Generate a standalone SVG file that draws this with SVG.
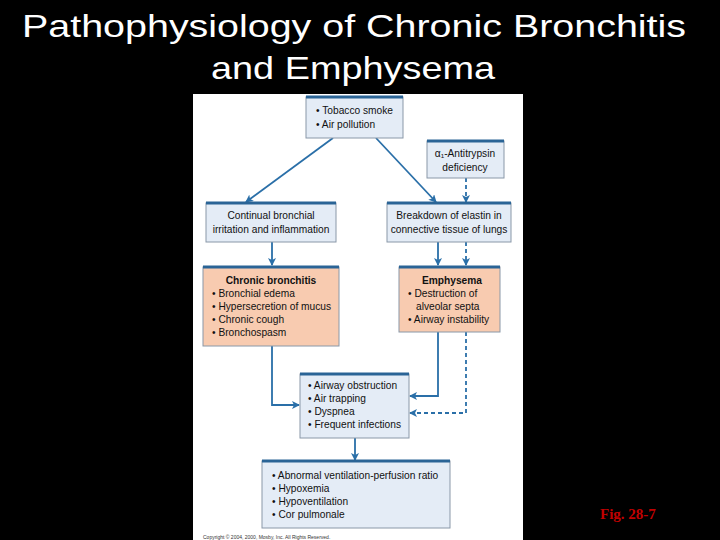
<svg xmlns="http://www.w3.org/2000/svg" width="720" height="540" viewBox="0 0 720 540">
<style>
.b{fill:#e4ecf6;stroke:#8a98a8;stroke-width:1}
.p{fill:#f8cbb0;stroke:#8a98a8;stroke-width:1}
.tb{stroke:#2a6496;stroke-width:3}
.t{font-family:"Liberation Sans",Arial,sans-serif;font-size:10.2px;fill:#111}
.c{stroke:#2a6fa8;stroke-width:1.8;fill:none}
.d{stroke-dasharray:4,3}
.h{font-family:"Liberation Sans",Arial,sans-serif;font-size:32px;fill:#fff}
</style>
<defs><marker id="a" markerWidth="8" markerHeight="8" refX="7" refY="4" orient="auto" markerUnits="userSpaceOnUse"><path d="M0,0 L8,4 L0,8 L2,4 z" fill="#2a6fa8"/></marker></defs>
<rect width="720" height="540" fill="#000"/>
<text class="h" x="22" y="37" textLength="664" lengthAdjust="spacingAndGlyphs">Pathophysiology of Chronic Bronchitis</text>
<text class="h" x="211" y="79" textLength="284" lengthAdjust="spacingAndGlyphs">and Emphysema</text>
<rect x="193" y="94" width="330" height="446" fill="#fff"/>
<g id="connectors">
<line class="c" x1="333" y1="138" x2="246" y2="202" marker-end="url(#a)"/>
<line class="c" x1="376" y1="138" x2="436" y2="202" marker-end="url(#a)"/>
<line class="c d" x1="466" y1="178" x2="466" y2="202" marker-end="url(#a)"/>
<line class="c" x1="272" y1="242" x2="272" y2="265" marker-end="url(#a)"/>
<line class="c" x1="438" y1="242" x2="438" y2="265" marker-end="url(#a)"/>
<line class="c d" x1="466" y1="242" x2="466" y2="265" marker-end="url(#a)"/>
<polyline class="c" points="272,346 272,405 299,405" marker-end="url(#a)"/>
<polyline class="c" points="438,332 438,396 410,396" marker-end="url(#a)"/>
<polyline class="c d" points="466,332 466,413 410,413" marker-end="url(#a)"/>
<line class="c" x1="355" y1="438" x2="355" y2="460" marker-end="url(#a)"/>
</g>
<g id="n1"><rect class="b" x="306" y="97" width="97" height="41"/><line class="tb" x1="306" y1="97" x2="403" y2="97"/>
<text class="t" x="316" y="114">• Tobacco smoke</text><text class="t" x="316" y="128">• Air pollution</text></g>
<g id="n2"><rect class="b" x="427" y="141" width="77" height="37"/><line class="tb" x1="427" y1="141" x2="504" y2="141"/>
<text class="t" x="465" y="157" text-anchor="middle">α₁-Antitrypsin</text><text class="t" x="465" y="171" text-anchor="middle">deficiency</text></g>
<g id="n3"><rect class="b" x="206" y="203" width="130" height="39"/><line class="tb" x1="206" y1="203" x2="336" y2="203"/>
<text class="t" x="271" y="219" text-anchor="middle">Continual bronchial</text><text class="t" x="271" y="233" text-anchor="middle">irritation and inflammation</text></g>
<g id="n4"><rect class="b" x="387" y="203" width="124" height="39"/><line class="tb" x1="387" y1="203" x2="511" y2="203"/>
<text class="t" x="449" y="219" text-anchor="middle">Breakdown  of elastin in</text><text class="t" x="449" y="233" text-anchor="middle">connective tissue of lungs</text></g>
<g id="n5"><rect class="p" x="203" y="267" width="136" height="79"/><line class="tb" x1="203" y1="267" x2="339" y2="267"/>
<text class="t" x="271" y="284" text-anchor="middle" font-weight="bold">Chronic bronchitis</text>
<text class="t" x="212" y="297">• Bronchial edema</text><text class="t" x="212" y="310">• Hypersecretion of mucus</text><text class="t" x="212" y="323">• Chronic cough</text><text class="t" x="212" y="336">• Bronchospasm</text></g>
<g id="n6"><rect class="p" x="399" y="267" width="101" height="65"/><line class="tb" x1="399" y1="267" x2="500" y2="267"/>
<text class="t" x="452" y="284" text-anchor="middle" font-weight="bold">Emphysema</text>
<text class="t" x="408" y="297">• Destruction of</text><text class="t" x="416" y="310">alveolar septa</text><text class="t" x="408" y="323">• Airway instability</text></g>
<g id="n7"><rect class="b" x="300" y="374" width="109" height="64"/><line class="tb" x1="300" y1="374" x2="409" y2="374"/>
<text class="t" x="308" y="389">• Airway obstruction</text><text class="t" x="308" y="402">• Air trapping</text><text class="t" x="308" y="415">• Dyspnea</text><text class="t" x="308" y="428">• Frequent infections</text></g>
<g id="n8"><rect class="b" x="262" y="461" width="188" height="67"/><line class="tb" x1="262" y1="461" x2="450" y2="461"/>
<text class="t" x="272" y="479">• Abnormal ventilation-perfusion ratio</text><text class="t" x="272" y="492">• Hypoxemia</text><text class="t" x="272" y="505">• Hypoventilation</text><text class="t" x="272" y="518">• Cor pulmonale</text></g>
<text x="203" y="539" font-family="Liberation Sans,Arial,sans-serif" font-size="5" fill="#333">Copyright © 2004, 2000, Mosby, Inc. All Rights Reserved.</text>
<text x="600" y="519" font-family="Liberation Serif,Times New Roman,serif" font-size="15" font-weight="bold" fill="#c00000">Fig. 28-7</text>
</svg>
